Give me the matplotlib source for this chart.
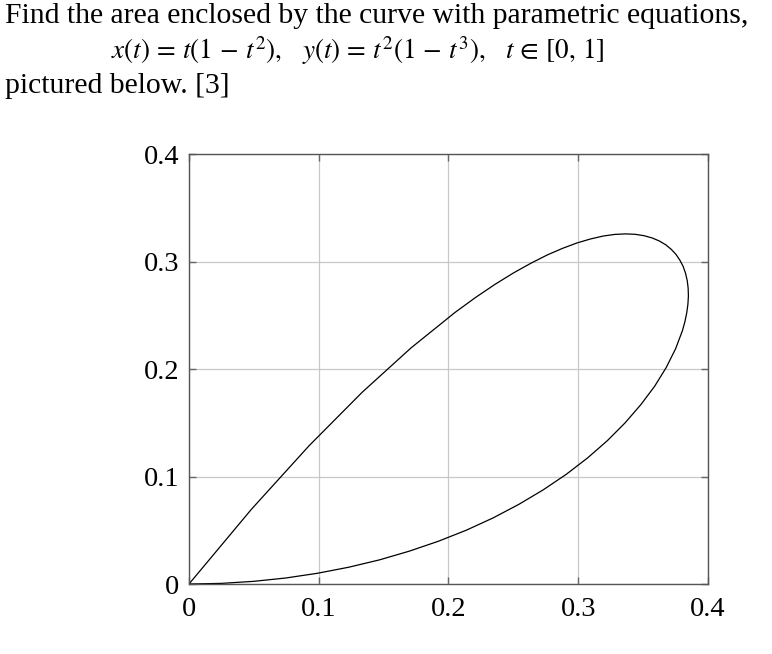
import matplotlib
matplotlib.use("Agg")
import matplotlib.pyplot as plt
from matplotlib.ticker import FixedLocator, FixedFormatter

plt.rcParams['font.family'] = ['Liberation Serif', 'DejaVu Serif']
plt.rcParams['mathtext.fontset'] = 'stix'

# points on the curve (in order of t from 0 to 1)
x_pts = [0.0, 0.025, 0.0499, 0.0746, 0.099, 0.123, 0.1466, 0.1696, 0.192, 0.2136,
         0.2344, 0.2542, 0.273, 0.2907, 0.3071, 0.3223, 0.336, 0.3482, 0.3589, 0.3678,
         0.375, 0.3803, 0.3822, 0.3836, 0.3845, 0.3849, 0.3847, 0.384, 0.3827, 0.3809,
         0.3784, 0.3754, 0.3717, 0.3675, 0.3625, 0.357, 0.3508, 0.3439, 0.3364, 0.3281,
         0.3192, 0.3095, 0.2991, 0.288, 0.2761, 0.2635, 0.2501, 0.2359, 0.2209, 0.2051,
         0.171, 0.1335, 0.0926, 0.0481, 0.0]
y_pts = [0.0, 0.0006, 0.0025, 0.0056, 0.01, 0.0156, 0.0224, 0.0305, 0.0397, 0.05,
         0.0615, 0.0741, 0.0876, 0.102, 0.1172, 0.1332, 0.1498, 0.1668, 0.184, 0.2014,
         0.2188, 0.2357, 0.244, 0.2522, 0.2601, 0.2678, 0.2752, 0.2822, 0.289, 0.2953,
         0.3011, 0.3065, 0.3113, 0.3155, 0.3191, 0.3219, 0.324, 0.3253, 0.3257, 0.3252,
         0.3237, 0.321, 0.3173, 0.3123, 0.3061, 0.2984, 0.2894, 0.2788, 0.2666, 0.2527,
         0.2195, 0.1784, 0.1287, 0.0695, 0.0]

ticks = [0, 0.1, 0.2, 0.3, 0.4]
tick_labels = ['0', '0.1', '0.2', '0.3', '0.4']

fig = plt.figure(figsize=(7.72, 6.54), dpi=100)

fig.text(0.006, 0.976, 'Find the area enclosed by the curve with parametric equations,',
         fontsize=21.3, va='center', ha='left')
fig.text(0.463, 0.922,
         r'$x(t)\,=\,t(1\,-\,t^2),\;\;\;y(t)\,=\,t^2(1\,-\,t^3),\;\;\;t\,\in\,[0,\,1]$',
         fontsize=19.5, va='center', ha='center')
fig.text(0.006, 0.868, 'pictured below. [3]', fontsize=21.3, va='center', ha='left')

ax = fig.add_axes([0.2448, 0.107, 0.6723, 0.6575])
ax.plot(x_pts, y_pts, color='black', linewidth=0.9)

ax.set_xlim(0, 0.4)
ax.set_ylim(0, 0.4)
ax.xaxis.set_major_locator(FixedLocator(ticks))
ax.yaxis.set_major_locator(FixedLocator(ticks))
ax.xaxis.set_major_formatter(FixedFormatter(tick_labels))
ax.yaxis.set_major_formatter(FixedFormatter(tick_labels))
ax.grid(True, color='#c8c8c8', linewidth=0.9)
ax.set_axisbelow(True)
ax.tick_params(direction='in', length=5, width=1, color='#666666',
               top=True, right=True, labelsize=20.5)
ax.tick_params(axis='y', pad=7)
ax.tick_params(axis='x', pad=9)
for s in ax.spines.values():
    s.set_color('#555555')
    s.set_linewidth(1.0)

fig.savefig('out.png', dpi=100)
